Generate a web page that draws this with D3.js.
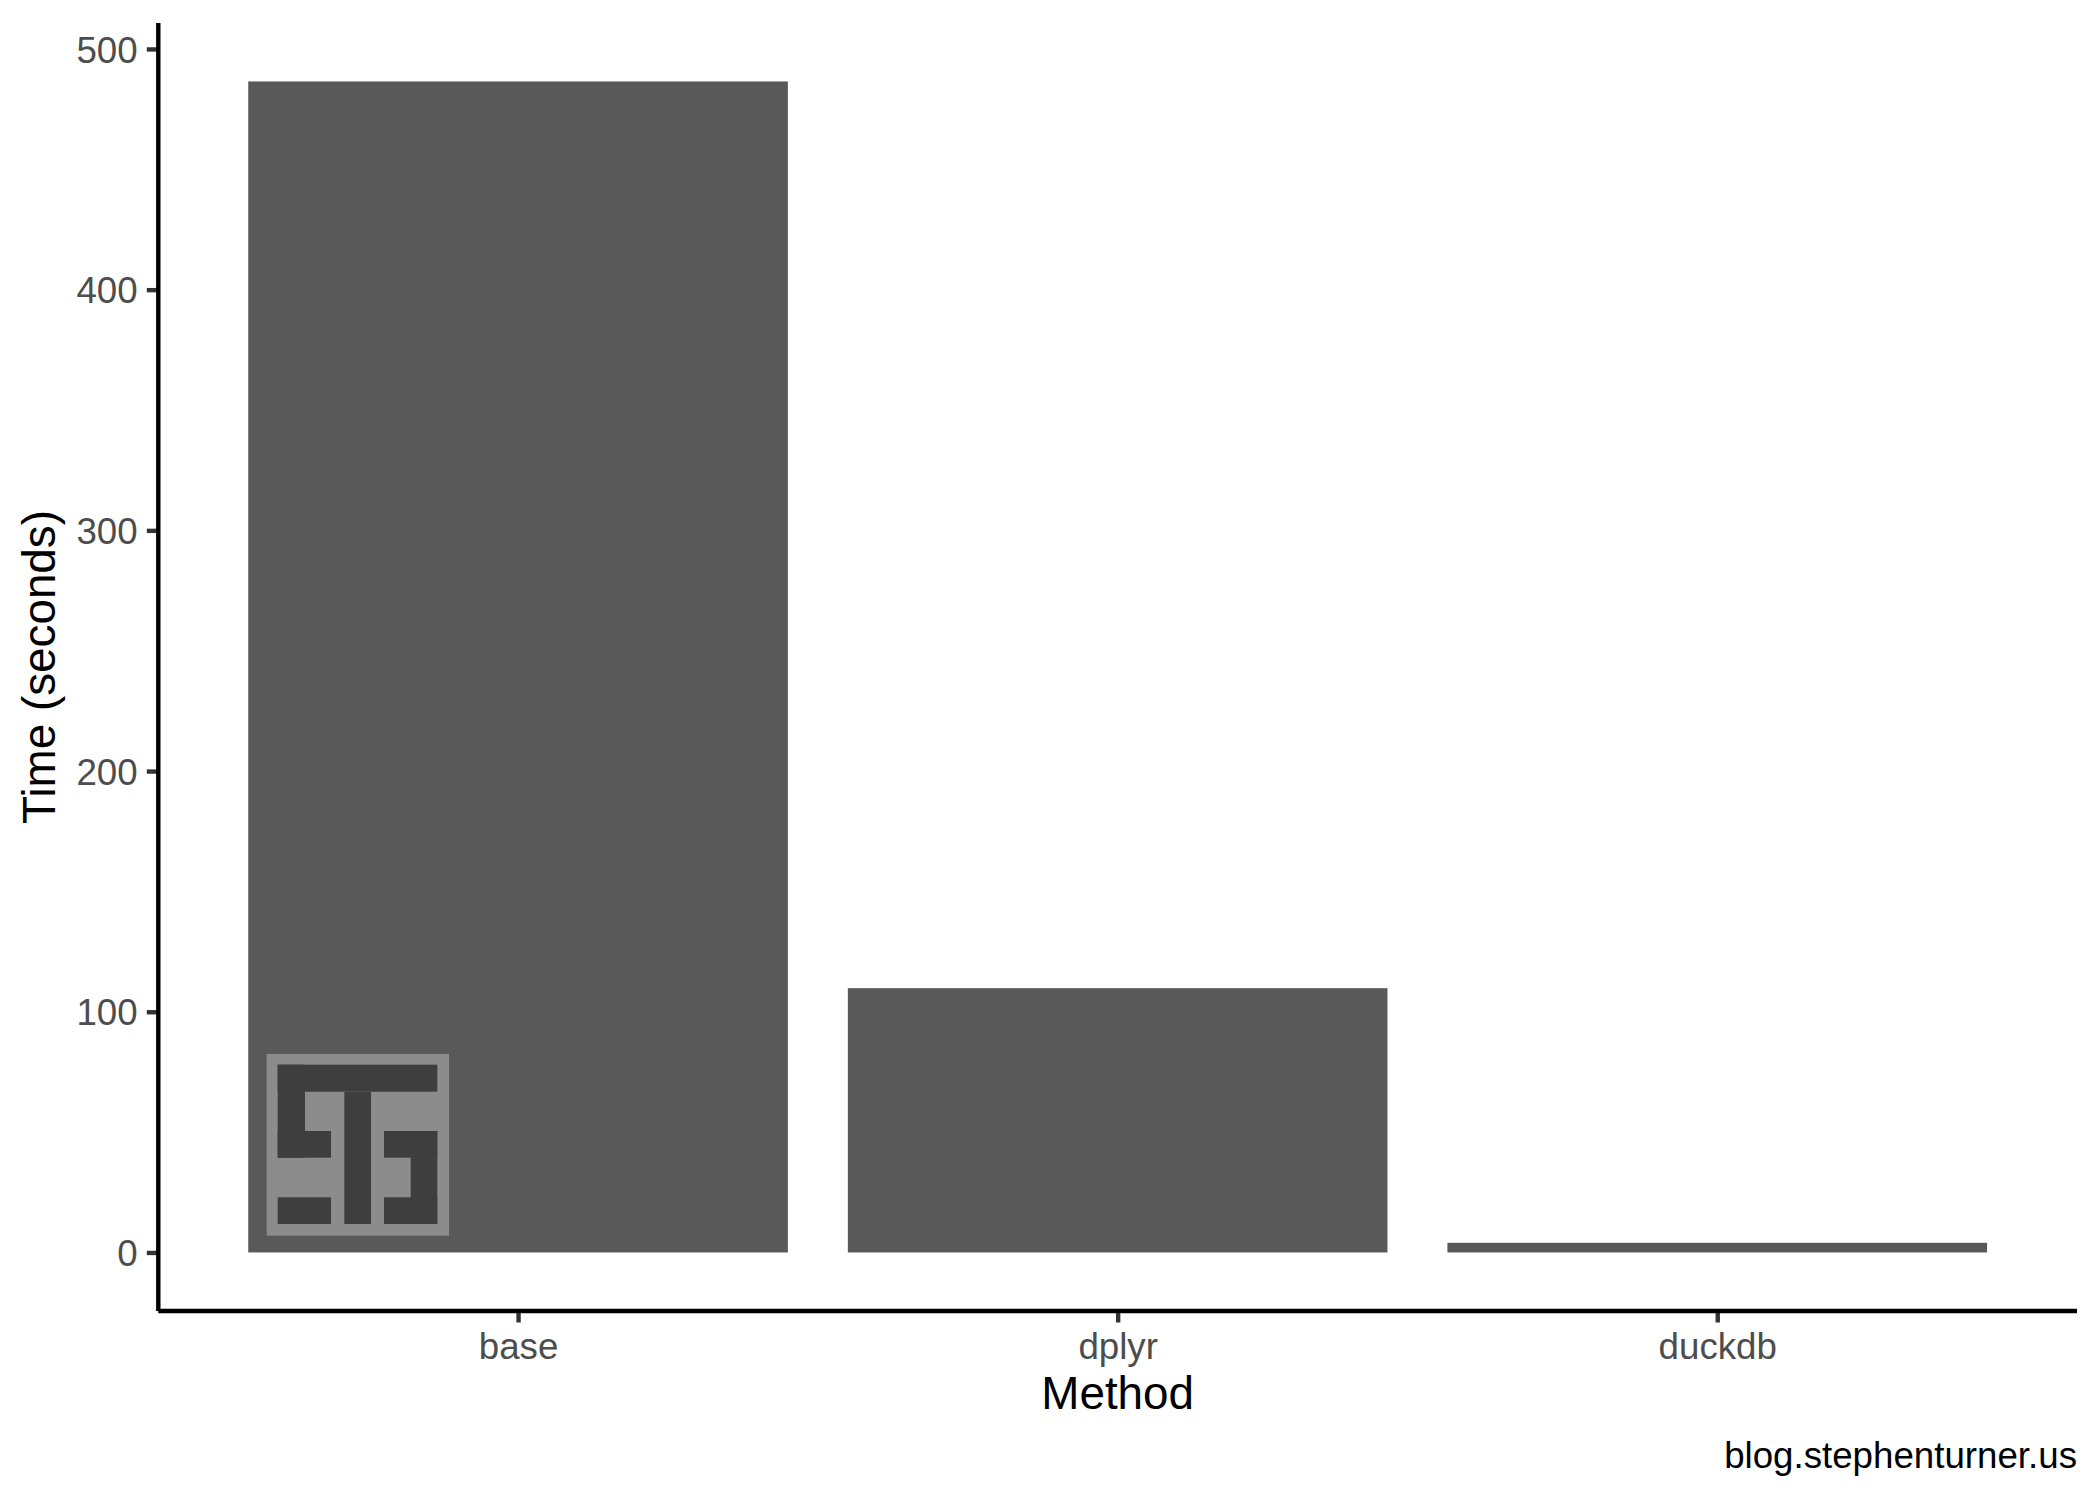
<!DOCTYPE html>
<html>
<head>
<meta charset="utf-8">
<script src="https://cdn.jsdelivr.net/npm/d3@7/dist/d3.min.js"></script>
<style>
  html, body { margin: 0; padding: 0; background: #ffffff; }
  svg { display: block; }
  text { font-family: "Liberation Sans", Arial, Helvetica, sans-serif; }
</style>
</head>
<body>
<svg id="chart" width="2100" height="1500"></svg>
<script>
// ---- data ----
const methods = ["base", "dplyr", "duckdb"];
const times = [486.5, 109.8, 4.0];
const yTicks = [0, 100, 200, 300, 400, 500];
const xTitle = "Method";
const yTitle = "Time (seconds)";
const caption = "blog.stephenturner.us";

// ---- layout ----
const W = 2100, H = 1500;
const panel = { left: 158.3, right: 2077, top: 22.9, bottom: 1311 };
const svg = d3.select("#chart");

const maxV = d3.max(times);
const y = d3.scaleLinear()
  .domain([0 - 0.05 * maxV, maxV * 1.05])
  .range([panel.bottom, panel.top]);

// discrete axis with 0.6 additive expansion
const xc = d3.scaleLinear()
  .domain([0.4, methods.length + 0.6])
  .range([panel.left, panel.right]);
const xPos = m => xc(methods.indexOf(m) + 1);
const barW = xc(1.9) - xc(1);

// bars
svg.append("g").selectAll("rect")
  .data(methods.map((m, i) => ({ m, v: times[i] })))
  .join("rect")
  .attr("x", d => xPos(d.m) - barW / 2)
  .attr("width", barW)
  .attr("y", d => y(d.v))
  .attr("height", d => y(0) - y(d.v))
  .attr("fill", "#595959");

// logo (decoration inside the first bar)
const logo = svg.append("g").attr("transform", "translate(266.7,1054)");
logo.append("rect").attr("width", 182.3).attr("height", 181.7).attr("fill", "#8c8c8c");
const dark = "#3e3e3e";
const L = [
  [11, 10.7, 159.6, 27],      // top bar
  [11, 10.7, 27.3, 93],       // S left vertical
  [11, 77, 53.3, 26.7],       // S middle
  [11, 143.3, 53.3, 26.7],    // S bottom
  [77.6, 37.7, 26.7, 132.3],  // T stem
  [117.3, 77, 53.3, 26.7],    // G top
  [144, 77, 26.6, 93],        // G right vertical
  [117.3, 143.3, 53.3, 26.7]  // G bottom
];
logo.selectAll("rect.s").data(L).join("rect").attr("class", "s")
  .attr("x", d => d[0]).attr("y", d => d[1])
  .attr("width", d => d[2]).attr("height", d => d[3])
  .attr("fill", dark);

// axes
const lw = 4.4;
const yAxis = d3.axisLeft(y).tickValues(yTicks).tickSize(11.5).tickPadding(9.2);
const gy = svg.append("g").attr("transform", `translate(${panel.left},0)`).call(yAxis);
gy.select(".domain").remove();
gy.selectAll(".tick line").attr("stroke", "#333333").attr("stroke-width", lw);
gy.selectAll(".tick text").attr("fill", "#4d4d4d").attr("font-size", 36.7)
  .attr("font-family", "Liberation Sans, Arial, sans-serif").attr("dy", "0.36em");

const xBand = d3.scalePoint().domain(methods).range([xPos(methods[0]), xPos(methods[methods.length - 1])]);
const xAxis = d3.axisBottom(xBand).tickSize(11.5).tickPadding(9.2);
const gx = svg.append("g").attr("transform", `translate(0,${panel.bottom})`).call(xAxis);
gx.select(".domain").remove();
gx.selectAll(".tick line").attr("stroke", "#333333").attr("stroke-width", lw);
gx.selectAll(".tick text").attr("fill", "#4d4d4d").attr("font-size", 36.7)
  .attr("font-family", "Liberation Sans, Arial, sans-serif").attr("dy", "0.74em");

// axis lines
svg.append("line").attr("x1", panel.left).attr("x2", panel.left)
  .attr("y1", panel.top).attr("y2", panel.bottom)
  .attr("stroke", "#000").attr("stroke-width", lw);
svg.append("line").attr("x1", panel.left).attr("x2", panel.right)
  .attr("y1", panel.bottom).attr("y2", panel.bottom)
  .attr("stroke", "#000").attr("stroke-width", lw);

// titles
svg.append("text").attr("x", (panel.left + panel.right) / 2).attr("y", 1409.3)
  .attr("text-anchor", "middle").attr("font-size", 45.8).attr("fill", "#000").text(xTitle);
svg.append("text")
  .attr("transform", `translate(55,${(panel.top + panel.bottom) / 2}) rotate(-90)`)
  .attr("text-anchor", "middle").attr("font-size", 45.8).attr("fill", "#000").text(yTitle);
svg.append("text").attr("x", panel.right).attr("y", 1468)
  .attr("text-anchor", "end").attr("font-size", 36.7).attr("fill", "#000").text(caption);
</script>
</body>
</html>
